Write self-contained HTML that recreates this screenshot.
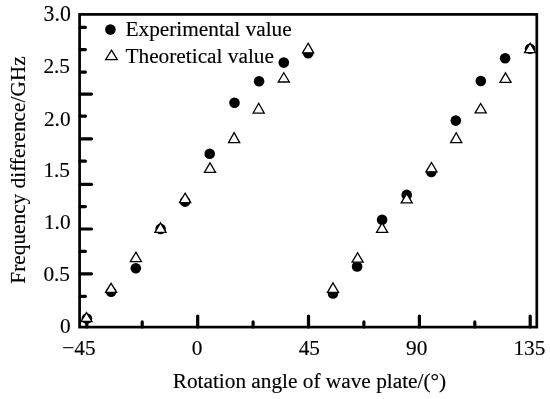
<!DOCTYPE html><html><head><meta charset="utf-8"><title>chart</title><style>html,body{margin:0;padding:0;background:#fff}svg{display:block}text{font-family:"Liberation Serif",serif;font-size:21.3px;fill:#000;stroke:#000;stroke-width:0.15px}</style></head><body>
<svg width="550" height="399" viewBox="0 0 550 399">
<rect width="550" height="399" fill="#fff"/>
<rect x="79.6" y="14.4" width="457.2" height="312.7" fill="none" stroke="#000" stroke-width="2.7"/>
<line x1="80" y1="27.4" x2="85.4" y2="27.4" stroke="#000" stroke-width="3.2" stroke-linecap="round"/>
<line x1="80" y1="49.6" x2="85.4" y2="49.6" stroke="#000" stroke-width="3.2" stroke-linecap="round"/>
<line x1="80" y1="72.1" x2="85.4" y2="72.1" stroke="#000" stroke-width="3.2" stroke-linecap="round"/>
<line x1="80" y1="94.1" x2="91.5" y2="94.1" stroke="#000" stroke-width="3.2" stroke-linecap="round"/>
<line x1="80" y1="116.2" x2="85.4" y2="116.2" stroke="#000" stroke-width="3.2" stroke-linecap="round"/>
<line x1="80" y1="138.8" x2="91.5" y2="138.8" stroke="#000" stroke-width="3.2" stroke-linecap="round"/>
<line x1="80" y1="161.2" x2="85.4" y2="161.2" stroke="#000" stroke-width="3.2" stroke-linecap="round"/>
<line x1="80" y1="184.3" x2="91.5" y2="184.3" stroke="#000" stroke-width="3.2" stroke-linecap="round"/>
<line x1="80" y1="206.6" x2="85.4" y2="206.6" stroke="#000" stroke-width="3.2" stroke-linecap="round"/>
<line x1="80" y1="229.0" x2="91.5" y2="229.0" stroke="#000" stroke-width="3.2" stroke-linecap="round"/>
<line x1="80" y1="251.4" x2="85.4" y2="251.4" stroke="#000" stroke-width="3.2" stroke-linecap="round"/>
<line x1="80" y1="273.8" x2="91.5" y2="273.8" stroke="#000" stroke-width="3.2" stroke-linecap="round"/>
<line x1="80" y1="296.3" x2="85.4" y2="296.3" stroke="#000" stroke-width="3.2" stroke-linecap="round"/>
<line x1="86.8" y1="327" x2="86.8" y2="316.1" stroke="#000" stroke-width="3.2" stroke-linecap="round"/>
<line x1="142.2" y1="327" x2="142.2" y2="321.9" stroke="#000" stroke-width="3.2" stroke-linecap="round"/>
<line x1="197.7" y1="327" x2="197.7" y2="316.1" stroke="#000" stroke-width="3.2" stroke-linecap="round"/>
<line x1="253.1" y1="327" x2="253.1" y2="321.9" stroke="#000" stroke-width="3.2" stroke-linecap="round"/>
<line x1="308.5" y1="327" x2="308.5" y2="316.1" stroke="#000" stroke-width="3.2" stroke-linecap="round"/>
<line x1="363.9" y1="327" x2="363.9" y2="321.9" stroke="#000" stroke-width="3.2" stroke-linecap="round"/>
<line x1="419.4" y1="327" x2="419.4" y2="316.1" stroke="#000" stroke-width="3.2" stroke-linecap="round"/>
<line x1="474.8" y1="327" x2="474.8" y2="321.9" stroke="#000" stroke-width="3.2" stroke-linecap="round"/>
<line x1="530.2" y1="327" x2="530.2" y2="316.1" stroke="#000" stroke-width="3.2" stroke-linecap="round"/>
<circle cx="86.9" cy="318.6" r="5.3" fill="#000"/>
<circle cx="111.1" cy="291.7" r="5.3" fill="#000"/>
<circle cx="135.8" cy="268.2" r="5.3" fill="#000"/>
<circle cx="160.6" cy="228.9" r="5.3" fill="#000"/>
<circle cx="185.1" cy="201.6" r="5.3" fill="#000"/>
<circle cx="209.7" cy="153.7" r="5.3" fill="#000"/>
<circle cx="234.5" cy="102.7" r="5.3" fill="#000"/>
<circle cx="259.1" cy="81.3" r="5.3" fill="#000"/>
<circle cx="283.8" cy="62.6" r="5.3" fill="#000"/>
<circle cx="308.2" cy="53.3" r="5.3" fill="#000"/>
<circle cx="333.0" cy="293.5" r="5.3" fill="#000"/>
<circle cx="357.1" cy="266.4" r="5.3" fill="#000"/>
<circle cx="382.1" cy="219.7" r="5.3" fill="#000"/>
<circle cx="406.7" cy="194.9" r="5.3" fill="#000"/>
<circle cx="431.3" cy="172.0" r="5.3" fill="#000"/>
<circle cx="455.8" cy="120.6" r="5.3" fill="#000"/>
<circle cx="480.8" cy="81.0" r="5.3" fill="#000"/>
<circle cx="505.1" cy="58.2" r="5.3" fill="#000"/>
<circle cx="530.1" cy="48.8" r="5.3" fill="#000"/>
<path d="M86.50 312.54 L92.03 321.50 L80.97 321.50 Z" fill="#fff" stroke="#000" stroke-width="1.3" stroke-linejoin="miter" stroke-miterlimit="10"/>
<path d="M111.10 283.34 L116.63 292.30 L105.57 292.30 Z" fill="#fff" stroke="#000" stroke-width="1.3" stroke-linejoin="miter" stroke-miterlimit="10"/>
<path d="M135.90 252.19 L141.47 261.70 L130.33 261.70 Z" fill="#fff" stroke="#000" stroke-width="1.3" stroke-linejoin="miter" stroke-miterlimit="10"/>
<path d="M160.50 222.88 L166.06 232.30 L154.94 232.30 Z" fill="#fff" stroke="#000" stroke-width="1.3" stroke-linejoin="miter" stroke-miterlimit="10"/>
<path d="M185.10 193.19 L190.67 202.70 L179.53 202.70 Z" fill="#fff" stroke="#000" stroke-width="1.3" stroke-linejoin="miter" stroke-miterlimit="10"/>
<path d="M210.00 162.88 L215.56 172.30 L204.44 172.30 Z" fill="#fff" stroke="#000" stroke-width="1.3" stroke-linejoin="miter" stroke-miterlimit="10"/>
<path d="M234.10 132.63 L239.69 142.60 L228.51 142.60 Z" fill="#fff" stroke="#000" stroke-width="1.3" stroke-linejoin="miter" stroke-miterlimit="10"/>
<path d="M258.70 103.22 L264.29 113.10 L253.11 113.10 Z" fill="#fff" stroke="#000" stroke-width="1.3" stroke-linejoin="miter" stroke-miterlimit="10"/>
<path d="M283.80 72.76 L289.35 82.00 L278.25 82.00 Z" fill="#fff" stroke="#000" stroke-width="1.3" stroke-linejoin="miter" stroke-miterlimit="10"/>
<path d="M308.10 43.20 L313.67 52.80 L302.53 52.80 Z" fill="#fff" stroke="#000" stroke-width="1.3" stroke-linejoin="miter" stroke-miterlimit="10"/>
<path d="M333.00 282.89 L338.57 292.40 L327.43 292.40 Z" fill="#fff" stroke="#000" stroke-width="1.3" stroke-linejoin="miter" stroke-miterlimit="10"/>
<path d="M357.60 252.78 L363.16 262.20 L352.04 262.20 Z" fill="#fff" stroke="#000" stroke-width="1.3" stroke-linejoin="miter" stroke-miterlimit="10"/>
<path d="M382.10 222.80 L387.67 232.40 L376.53 232.40 Z" fill="#fff" stroke="#000" stroke-width="1.3" stroke-linejoin="miter" stroke-miterlimit="10"/>
<path d="M406.70 193.56 L412.25 202.80 L401.15 202.80 Z" fill="#fff" stroke="#000" stroke-width="1.3" stroke-linejoin="miter" stroke-miterlimit="10"/>
<path d="M431.50 162.47 L437.06 171.80 L425.94 171.80 Z" fill="#fff" stroke="#000" stroke-width="1.3" stroke-linejoin="miter" stroke-miterlimit="10"/>
<path d="M456.20 132.72 L461.79 142.60 L450.61 142.60 Z" fill="#fff" stroke="#000" stroke-width="1.3" stroke-linejoin="miter" stroke-miterlimit="10"/>
<path d="M480.70 103.47 L486.26 112.80 L475.14 112.80 Z" fill="#fff" stroke="#000" stroke-width="1.3" stroke-linejoin="miter" stroke-miterlimit="10"/>
<path d="M505.50 72.89 L511.07 82.40 L499.93 82.40 Z" fill="#fff" stroke="#000" stroke-width="1.3" stroke-linejoin="miter" stroke-miterlimit="10"/>
<path d="M530.10 43.18 L535.66 52.60 L524.54 52.60 Z" fill="#fff" stroke="#000" stroke-width="1.3" stroke-linejoin="miter" stroke-miterlimit="10"/>
<circle cx="110.4" cy="29.6" r="5.3" fill="#000"/>
<path d="M111.50 50.15 L117.34 59.70 L105.66 59.70 Z" fill="#fff" stroke="#000" stroke-width="1.3" stroke-linejoin="miter" stroke-miterlimit="10"/>
<text x="125.5" y="36">Experimental value</text>
<text x="125.5" y="63">Theoretical value</text>
<text x="70.8" y="21.4" text-anchor="end" style="font-size:22.7px" textLength="27.2" lengthAdjust="spacingAndGlyphs">3.0</text>
<text x="70.0" y="72.7" text-anchor="end">2.5</text>
<text x="70.6" y="125.5" text-anchor="end">2.0</text>
<text x="70.0" y="176.9" text-anchor="end">1.5</text>
<text x="70.6" y="229.4" text-anchor="end">1.0</text>
<text x="70.0" y="281.4" text-anchor="end">0.5</text>
<text x="70.6" y="333" text-anchor="end">0</text>
<text x="79" y="355" text-anchor="middle">−45</text>
<text x="197.2" y="355" text-anchor="middle">0</text>
<text x="309.3" y="355" text-anchor="middle">45</text>
<text x="416.7" y="355" text-anchor="middle">90</text>
<text x="529.4" y="355" text-anchor="middle">135</text>
<text x="172.7" y="388.4">Rotation angle of wave plate/(°)</text>
<text transform="translate(25.1,170) rotate(-90)" text-anchor="middle">Frequency difference/GHz</text>
</svg></body></html>
